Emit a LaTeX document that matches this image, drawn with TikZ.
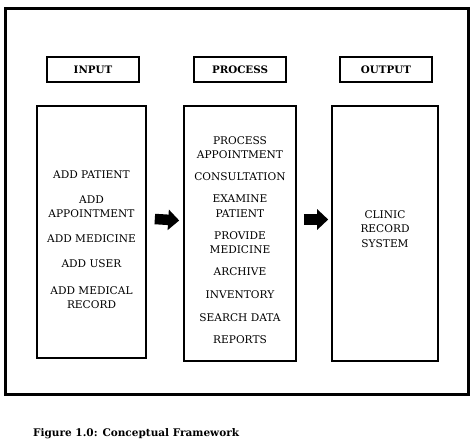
\documentclass[tikz,border=0pt]{standalone}
\usepackage{fontspec}
\setmainfont{DejaVu Serif}
\usetikzlibrary{arrows.meta}
\begin{document}
\begin{tikzpicture}[x=1pt,y=-1pt,
  frame/.style={draw,line width=3pt},
  headbox/.style={draw,line width=1.6pt,minimum width=92pt,minimum height=25pt,inner sep=0pt,font=\fontsize{10.3}{12}\selectfont\bfseries},
  colbox/.style={draw,line width=1.6pt,inner sep=0pt},
  item/.style={align=center,font=\fontsize{10.6}{14.5}\selectfont,inner sep=0pt},
  blockarrow/.style={line width=10.5pt,-{Triangle[length=11pt,width=20pt]}}
]
\useasboundingbox (0,0) rectangle (474,445);
\node[frame,minimum width=463pt,minimum height=386pt,inner sep=0pt] (frame) at (236.5,201.5) {};
\node[headbox] (hin) at (93,69.5) {INPUT};
\node[headbox] (hproc) at (240,69.5) {PROCESS};
\node[headbox] (hout) at (386,69.5) {OUTPUT};
\node[colbox,minimum width=109pt,minimum height=252pt] (in) at (91.5,232) {};
\node[colbox,minimum width=112pt,minimum height=255pt] (proc) at (240,233.5) {};
\node[colbox,minimum width=106pt,minimum height=255pt] (out) at (385,233.5) {};
% input items
\node[item] (i1) at (91.5,175) {ADD PATIENT};
\node[item] (i2) at (91.5,206.5) {ADD\\APPOINTMENT};
\node[item] (i3) at (91.5,239) {ADD MEDICINE};
\node[item] (i4) at (91.5,264) {ADD USER};
\node[item] (i5) at (91.5,297.5) {ADD MEDICAL\\RECORD};
% process items
\node[item] (p1) at (240,147.5) {PROCESS\\APPOINTMENT};
\node[item] (p2) at (240,177) {CONSULTATION};
\node[item] (p3) at (240,206) {EXAMINE\\PATIENT};
\node[item] (p4) at (240,242.5) {PROVIDE\\MEDICINE};
\node[item] (p5) at (240,272) {ARCHIVE};
\node[item] (p6) at (240,295) {INVENTORY};
\node[item] (p7) at (240,318) {SEARCH DATA};
\node[item] (p8) at (240,340) {REPORTS};
% output items
\node[item] (o1) at (385,229) {CLINIC\\RECORD\\SYSTEM};
% arrows
\draw[blockarrow] ([yshift=13pt,xshift=8pt]in.east) coordinate (a1s) -- ([yshift=13pt,xshift=-4pt]proc.west);
\draw[blockarrow] ([yshift=14pt,xshift=7pt]proc.east) coordinate (a2s) -- ([yshift=14pt,xshift=-3pt]out.west);
\node[anchor=west,inner sep=0pt,font=\fontsize{10.5}{12}\selectfont\bfseries] (cap) at (33,434) {Figure 1.0: Conceptual Framework};
\end{tikzpicture}
\end{document}
